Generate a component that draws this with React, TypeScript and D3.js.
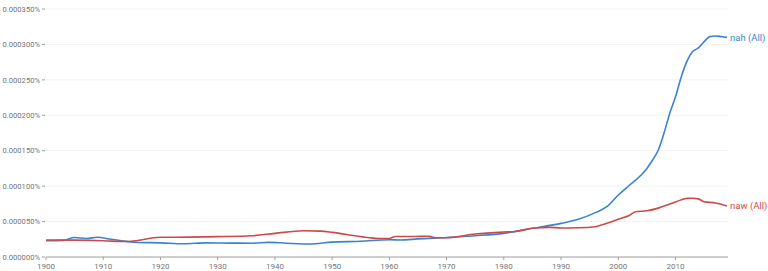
import React from "react";
import * as d3 from "d3";

const nahYears = [1900, 1903, 1905, 1907, 1909, 1911, 1914, 1916, 1920, 1924, 1928, 1932, 1936, 1939, 1942, 1946, 1950, 1955, 1960, 1962, 1965, 1970, 1975, 1980, 1985, 1990, 1993, 1996, 1998, 2000, 2002, 2004, 2005, 2006, 2007, 2008, 2009, 2010, 2011, 2012, 2013, 2014, 2015, 2016, 2017, 2018, 2019];
const nahValues = [0.0000230, 0.0000235, 0.0000275, 0.0000262, 0.0000278, 0.0000255, 0.0000220, 0.0000205, 0.0000200, 0.0000186, 0.0000200, 0.0000196, 0.0000195, 0.0000207, 0.0000195, 0.0000183, 0.0000210, 0.0000222, 0.0000244, 0.0000240, 0.0000256, 0.0000275, 0.0000300, 0.0000334, 0.0000405, 0.0000475, 0.0000532, 0.0000626, 0.0000710, 0.0000875, 0.0001016, 0.0001157, 0.0001250, 0.0001369, 0.0001510, 0.0001750, 0.0002030, 0.0002260, 0.0002540, 0.0002760, 0.0002900, 0.0002950, 0.0003040, 0.0003110, 0.0003120, 0.0003110, 0.0003100];

const nawYears = [1900, 1905, 1910, 1914, 1920, 1925, 1930, 1936, 1940, 1945, 1948, 1950, 1955, 1958, 1960, 1961, 1964, 1967, 1968, 1970, 1975, 1980, 1982, 1985, 1988, 1990, 1993, 1996, 1998, 2000, 2002, 2003, 2005, 2007, 2009, 2010, 2012, 2013, 2014, 2015, 2017, 2019];
const nawValues = [0.0000240, 0.0000238, 0.0000230, 0.0000218, 0.0000278, 0.0000280, 0.0000287, 0.0000300, 0.0000334, 0.0000371, 0.0000365, 0.0000348, 0.0000287, 0.0000262, 0.0000262, 0.0000290, 0.0000290, 0.0000292, 0.0000272, 0.0000272, 0.0000324, 0.0000352, 0.0000360, 0.0000405, 0.0000418, 0.0000410, 0.0000412, 0.0000428, 0.0000475, 0.0000532, 0.0000590, 0.0000639, 0.0000652, 0.0000690, 0.0000748, 0.0000776, 0.0000828, 0.0000830, 0.0000820, 0.0000780, 0.0000763, 0.0000720];

const yTicks = [0, 0.00005, 0.0001, 0.00015, 0.0002, 0.00025, 0.0003, 0.00035];
const xTicks = [1900, 1910, 1920, 1930, 1940, 1950, 1960, 1970, 1980, 1990, 2000, 2010];
const seriesNames = ["nah (All)", "naw (All)"];
const colors = ["#3b84cc", "#cc4a4a"];

export default function App() {
  const W = 768, H = 271;
  const x = d3.scaleLinear().domain([1900, 2019]).range([46, 727]);
  const y = d3.scaleLinear().domain([0, 0.00035]).range([257, 9]);
  const line = d3.line<[number, number]>().x(d => x(d[0])).y(d => y(d[1])).curve(d3.curveMonotoneX);
  const series = [
    nahYears.map((yr, i) => [yr, nahValues[i]] as [number, number]),
    nawYears.map((yr, i) => [yr, nawValues[i]] as [number, number]),
  ];
  const font = "Roboto, 'Noto Sans', sans-serif";
  return (
    <svg width={W} height={H} style={{ position: "absolute", left: 0, top: 0, background: "#fff" }} fontFamily={font}>
      {yTicks.map(t => (
        <g key={t}>
          <line x1={46} x2={728} y1={y(t)} y2={y(t)} stroke={t === 0 ? "#9e9e9e" : "#f3f3f3"} strokeWidth={1} />
          <line x1={42} x2={45} y1={y(t)} y2={y(t)} stroke="#9e9e9e" strokeWidth={1} />
          <text x={40} y={y(t)} dy="0.35em" textAnchor="end" fontSize={7.6} fill="#757575">
            {(t * 1).toFixed(6) + "%"}
          </text>
        </g>
      ))}
      {xTicks.map(t => (
        <g key={t}>
          <line x1={x(t)} x2={x(t)} y1={257} y2={260} stroke="#9e9e9e" strokeWidth={1} />
          <text x={x(t)} y={266} dy="0.35em" textAnchor="middle" fontSize={8} fill="#757575">{t}</text>
        </g>
      ))}
      {series.map((s, i) => (
        <path key={i} d={line(s) || ""} fill="none" stroke={colors[i]} strokeWidth={1.6} />
      ))}
      {series.map((s, i) => {
        const last = s[s.length - 1];
        return (
          <text key={"l" + i} x={x(last[0]) + 3} y={y(last[1])} dy="0.35em" fontSize={9.5} fill={colors[i]}>
            {seriesNames[i]}
          </text>
        );
      })}
    </svg>
  );
}
